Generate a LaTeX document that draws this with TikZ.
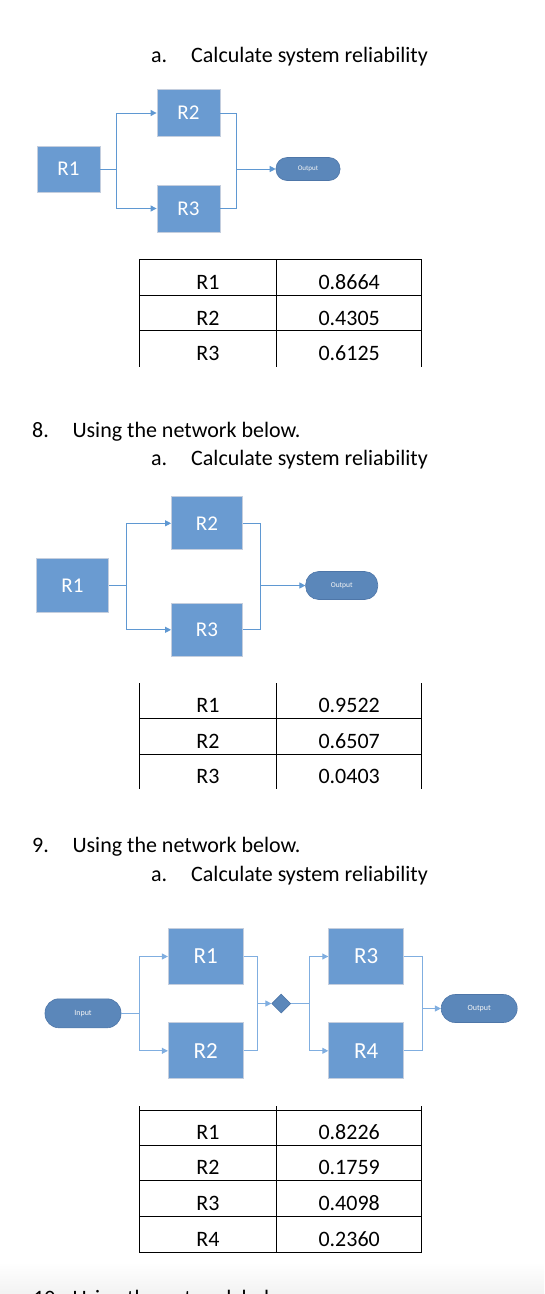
\documentclass[tikz,border=0pt]{standalone}
\usepackage{fontspec}
\setmainfont{Carlito}
\usetikzlibrary{arrows.meta, shapes.geometric}
\definecolor{cajaazul}{RGB}{106,155,209}
\definecolor{bordecaja}{RGB}{196,206,222}
\definecolor{salidaazul}{RGB}{91,135,186}
\definecolor{bordesalida}{RGB}{78,118,168}
\definecolor{lineaazul}{RGB}{95,152,210}
\definecolor{lineaclara}{RGB}{128,174,224}
\tikzset{
        caja/.style={rectangle, fill=cajaazul, draw=bordecaja, line width=0.8pt, text=white, inner sep=0pt, font=\fontsize{21}{24}\selectfont},
        salida/.style={rectangle, rounded corners=13pt, fill=salidaazul, draw=bordesalida, line width=0.6pt, text=white!92!gray, inner sep=0pt},
        rombo/.style={diamond, fill=salidaazul, draw=bordesalida, line width=0.6pt, minimum width=19pt, minimum height=19pt, inner sep=0pt},
        conector/.style={draw=lineaazul, line width=1pt},
        flecha/.style={conector, -{Triangle[length=6pt,width=6pt]}},
        texto/.style={anchor=base west, inner sep=0pt, font=\fontsize{22}{26}\selectfont},
        celda/.style={anchor=base, inner sep=0pt, font=\fontsize{22}{26}\selectfont},
        regla/.style={black, line width=0.9pt}
}

\begin{document}
\begin{tikzpicture}[x=1pt, y=-1pt, line cap=butt]
        \useasboundingbox (0,0) rectangle (544,1294);
        \fill[top color=white, bottom color=black!5] (0,1262) rectangle (544,1294);

        % parte a
        \node[texto] (ha1) at (151,62.5) {a.};
        \node[texto] (hc1) at (191,62.5) {Calculate system reliability};

        \node[caja, minimum width=63pt, minimum height=46pt] (r1a) at (68.5,169) {R1};
        \node[caja, minimum width=63pt, minimum height=47pt] (r2a) at (188.5,113) {R2};
        \node[caja, minimum width=63pt, minimum height=47pt] (r3a) at (188.5,208.5) {R3};
        \node[salida, rounded corners=11pt, minimum width=64pt, minimum height=23pt, font=\fontsize{7}{8}\selectfont] (outa) at (308,169) {Output};
        \coordinate (sa) at (116,169);
        \coordinate (ma) at (236.7,169);
        \draw[conector] (r1a.east) -- (sa);
        \draw[flecha] (sa) |- (r2a.west);
        \draw[flecha] (sa) |- (r3a.west);
        \draw[conector] (r2a.east) -| (ma);
        \draw[conector] (r3a.east) -| (ma);
        \draw[flecha] (ma) -- (outa.west);

        \draw[regla] (139.3,259.3) -- (421.7,259.3);
        \draw[regla] (139.3,295.7) -- (421.7,295.7);
        \draw[regla] (139.3,330.7) -- (421.7,330.7);
        \draw[regla] (139.3,259.3) -- (139.3,366.7);
        \draw[regla] (276.7,259.3) -- (276.7,366.7);
        \draw[regla] (421.7,259.3) -- (421.7,366.7);
        \node[celda] (ta1) at (208,289.5) {R1};
        \node[celda] (va1) at (349.2,289.5) {0.8664};
        \node[celda] (ta2) at (208,325.5) {R2};
        \node[celda] (va2) at (349.2,325.5) {0.4305};
        \node[celda] (ta3) at (208,360.7) {R3};
        \node[celda] (va3) at (349.2,360.7) {0.6125};

        % pregunta 8
        \node[texto] (n8) at (32,437) {8.};
        \node[texto] (u8) at (72.3,437) {Using the network below.};
        \node[texto] (ha2) at (151,465.5) {a.};
        \node[texto] (hc2) at (191,465.5) {Calculate system reliability};

        \node[caja, minimum width=72pt, minimum height=54pt] (r1b) at (72.5,585.5) {R1};
        \node[caja, minimum width=71pt, minimum height=53pt] (r2b) at (207,523.3) {R2};
        \node[caja, minimum width=71pt, minimum height=53pt] (r3b) at (207,629.8) {R3};
        \node[salida, minimum width=72pt, minimum height=28pt, font=\fontsize{7.5}{9}\selectfont] (outb) at (341.7,585.5) {Output};
        \coordinate (sb) at (126,585.5);
        \coordinate (mb) at (260,585.5);
        \draw[conector] (r1b.east) -- (sb);
        \draw[flecha] (sb) |- (r2b.west);
        \draw[flecha] (sb) |- (r3b.west);
        \draw[conector] (r2b.east) -| (mb);
        \draw[conector] (r3b.east) -| (mb);
        \draw[flecha] (mb) -- (outb.west);

        \draw[regla] (139.3,718.3) -- (421.7,718.3);
        \draw[regla] (139.3,754) -- (421.7,754);
        \draw[regla] (139.3,683) -- (139.3,789.3);
        \draw[regla] (276.7,683) -- (276.7,789.3);
        \draw[regla] (421.7,683) -- (421.7,789.3);
        \node[celda] (tb1) at (208,712.7) {R1};
        \node[celda] (vb1) at (349.2,712.7) {0.9522};
        \node[celda] (tb2) at (208,748.2) {R2};
        \node[celda] (vb2) at (349.2,748.2) {0.6507};
        \node[celda] (tb3) at (208,783.7) {R3};
        \node[celda] (vb3) at (349.2,783.7) {0.0403};

        % pregunta 9
        \node[texto] (n9) at (32,852.5) {9.};
        \node[texto] (u9) at (72.3,852.5) {Using the network below.};
        \node[texto] (ha3) at (151,881.3) {a.};
        \node[texto] (hc3) at (191,881.3) {Calculate system reliability};

        \node[salida, rounded corners=14pt, minimum width=76pt, minimum height=29pt, font=\fontsize{8}{9}\selectfont] (inc) at (83,1013.3) {Input};
        \node[caja, minimum width=75pt, minimum height=56pt, font=\fontsize{23}{26}\selectfont] (r1c) at (205.8,956.5) {R1};
        \node[caja, minimum width=75pt, minimum height=56pt, font=\fontsize{23}{26}\selectfont] (r2c) at (205.8,1050.8) {R2};
        \node[rombo] (nodoc) at (281.2,1003.5) {};
        \node[caja, minimum width=75pt, minimum height=56pt, font=\fontsize{23}{26}\selectfont] (r3c) at (366.2,956.5) {R3};
        \node[caja, minimum width=75pt, minimum height=56pt, font=\fontsize{23}{26}\selectfont] (r4c) at (366.2,1050.8) {R4};
        \node[salida, rounded corners=14pt, minimum width=76pt, minimum height=28pt, font=\fontsize{8}{9}\selectfont] (outc) at (479.2,1008.5) {Output};
        \coordinate (sc) at (139.3,1013.3);
        \coordinate (mc) at (257.3,1003.5);
        \coordinate (sd) at (309.3,1003.5);
        \coordinate (md) at (422.3,1008.5);
        \draw[conector, draw=lineaclara] (inc.east) -- (sc);
        \draw[flecha, draw=lineaclara] (sc) |- (r1c.west);
        \draw[flecha, draw=lineaclara] (sc) |- (r2c.west);
        \draw[conector, draw=lineaclara] (r1c.east) -| (mc);
        \draw[conector, draw=lineaclara] (r2c.east) -| (mc);
        \draw[flecha, draw=lineaclara] (mc) -- (nodoc.west);
        \draw[conector, draw=lineaclara] (nodoc.east) -- (sd);
        \draw[flecha, draw=lineaclara] (sd) |- (r3c.west);
        \draw[flecha, draw=lineaclara] (sd) |- (r4c.west);
        \draw[conector, draw=lineaclara] (r3c.east) -| (md);
        \draw[conector, draw=lineaclara] (r4c.east) -| (md);
        \draw[flecha, draw=lineaclara] (md) -- (outc.west);

        \draw[regla] (139.3,1110) -- (421.7,1110);
        \draw[regla] (139.3,1145) -- (421.7,1145);
        \draw[regla] (139.3,1180.7) -- (421.7,1180.7);
        \draw[regla] (139.3,1216.7) -- (421.7,1216.7);
        \draw[regla] (139.3,1252.3) -- (421.7,1252.3);
        \draw[regla] (139.3,1106) -- (139.3,1252.3);
        \draw[regla] (276.7,1106) -- (276.7,1252.3);
        \draw[regla] (421.7,1106) -- (421.7,1252.3);
        \node[celda] (tc1) at (208,1139.8) {R1};
        \node[celda] (vc1) at (349.2,1139.8) {0.8226};
        \node[celda] (tc2) at (208,1174.8) {R2};
        \node[celda] (vc2) at (349.2,1174.8) {0.1759};
        \node[celda] (tc3) at (208,1210.5) {R3};
        \node[celda] (vc3) at (349.2,1210.5) {0.4098};
        \node[celda] (tc4) at (208,1246.3) {R4};
        \node[celda] (vc4) at (349.2,1246.3) {0.2360};

        % pregunta 10, cortada por el borde
        \begin{scope}
                \clip (0,0) rectangle (544,1294);
                \node[texto] (n10) at (33,1305) {10.};
                \node[texto] (u10) at (72.3,1305) {Using the network below.};
        \end{scope}
\end{tikzpicture}
\end{document}
